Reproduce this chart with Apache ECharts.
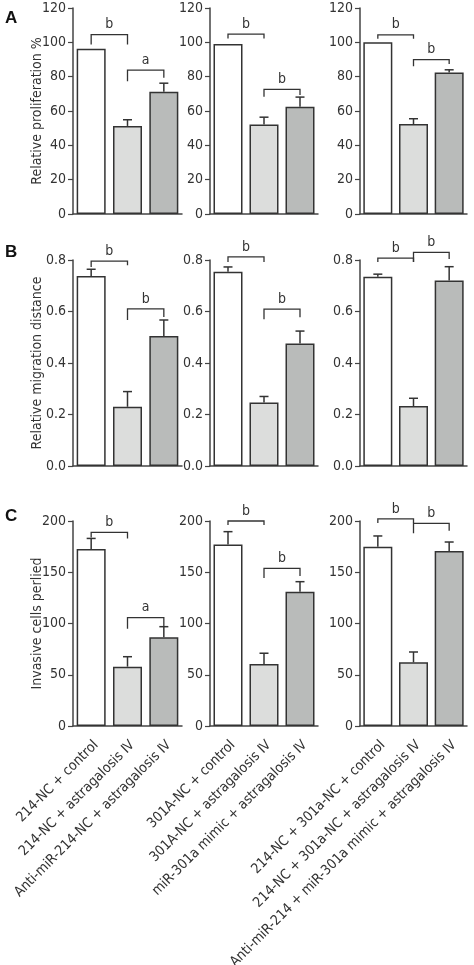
<!DOCTYPE html>
<html><head><meta charset="utf-8">
<script src="https://cdn.jsdelivr.net/npm/echarts@6/dist/echarts.min.js"></script>
<style>html,body{margin:0;padding:0;background:#fff}#c{width:474px;height:965px}</style>
</head><body><div id="c"></div>
<script>
// ---------- DATA ----------
const catsCol1 = ["214-NC + control", "214-NC + astragalosis Ⅳ", "Anti-miR-214-NC + astragalosis Ⅳ"];
const catsCol2 = ["301A-NC + control", "301A-NC + astragalosis Ⅳ", "miR-301a mimic + astragalosis Ⅳ"];
const catsCol3 = ["214-NC + 301a-NC + control", "214-NC + 301a-NC + astragalosis Ⅳ", "Anti-miR-214 + miR-301a mimic + astragalosis Ⅳ"];

const panelLetters = ["A", "B", "C"];
const yNames = ["Relative proliferation %", "Relative migration distance", "Invasive cells perlied"];
const yMaxes = [120, 0.8, 200];
const yIntervals = [20, 0.2, 50];
const yDecimals = [0, 1, 0];

// A: relative proliferation (%), per column: [white, light, dark]
const profMeans = [[96.2, 51.3, 71.2], [99.1, 52.1, 62.5], [100, 52.4, 82.5]];
const profErrTop = [[96.2, 54.9, 76.2], [99.1, 56.4, 68.1], [100, 55.5, 84.0]];
// B: relative migration distance
const migMeans = [[0.738, 0.230, 0.505], [0.754, 0.247, 0.476], [0.735, 0.233, 0.720]];
const migErrTop = [[0.764, 0.289, 0.567], [0.773, 0.270, 0.524], [0.745, 0.263, 0.774]];
// C: invasive cells per field
const invMeans = [[172.7, 57.9, 86.5], [177, 60.5, 131], [175, 62.1, 170.7]];
const invErrTop = [[183, 67.6, 96.9], [189.6, 71, 140.8], [185.4, 72.2, 179.5]];

// significance brackets: [fromIndex, toIndex, topY, leftEndY, rightEndY]
const profBrackets = [
  [[0, 1, 104.5, 98.7, 98.7], [1, 2, 83.8, 77.4, 79.3]],
  [[0, 1, 104.8, 102.2, 102.2], [1, 2, 72.6, 68.3, 69.3]],
  [[0, 1, 104.4, 102.1, 102.1], [1, 2, 89.9, 86.0, 87.4]]
];
const profBracketLabels = [["b", "a"], ["b", "b"], ["b", "b"]];
const migBrackets = [
  [[0, 1, 0.796, 0.773, 0.780], [1, 2, 0.610, 0.567, 0.579]],
  [[0, 1, 0.812, 0.792, 0.792], [1, 2, 0.609, 0.570, 0.578]],
  [[0, 1, 0.807, 0.792, 0.792], [1, 2, 0.830, 0.792, 0.804]]
];
const migBracketLabels = [["b", "b"], ["b", "b"], ["b", "b"]];
const invBrackets = [
  [[0, 1, 189, 184, 183], [1, 2, 105.7, 95, 97]],
  [[0, 1, 200, 196, 196], [1, 2, 153.8, 144.4, 146.3]],
  [[0, 1, 202, 198, 198], [1, 2, 197.7, 188, 190.5]]
];
const invBracketLabels = [["b", "a"], ["b", "b"], ["b", "b"]];

// ---------- CHART ----------
const cats = [catsCol1, catsCol2, catsCol3];
const means = [profMeans, migMeans, invMeans];
const errTops = [profErrTop, migErrTop, invErrTop];
const brackets = [profBrackets, migBrackets, invBrackets];
const bracketLabels = [profBracketLabels, migBracketLabels, invBracketLabels];

const FONT = '"DejaVu Sans Condensed", "DejaVu Sans", sans-serif';
const INK = '#333';
const barColors = ['#ffffff', '#dcdddc', '#b9bbba'];
const colLeft = [73, 210, 360];
const colRight = [182, 318, 467];
const rowTop = [8, 260, 521];
const rowBottom = [214, 466, 726];

const grids = [], xAxes = [], yAxes = [], series = [];
for (let r = 0; r < 3; r++) {
  for (let c = 0; c < 3; c++) {
    const gi = r * 3 + c;
    grids.push({left: colLeft[c], width: colRight[c] - colLeft[c], top: rowTop[r], height: rowBottom[r] - rowTop[r],
      containLabel: false, outerBoundsMode: 'none'});
    xAxes.push({
      type: 'category', gridIndex: gi, data: cats[c],
      axisLine: {lineStyle: {color: '#444', width: 1.5}},
      axisTick: {inside: true, length: 4, alignWithLabel: true, lineStyle: {color: '#444', width: 1.2}},
      axisLabel: r === 2 ? {show: true, interval: 0, rotate: 45, margin: 12, verticalAlign: 'top', hideOverlap: false, fontFamily: FONT, fontSize: 14, color: INK} : {show: false}
    });
    const dec = yDecimals[r];
    yAxes.push({
      type: 'value', gridIndex: gi, min: 0, max: yMaxes[r], interval: yIntervals[r],
      name: c === 0 ? yNames[r] : '', nameLocation: 'middle', nameGap: 29, nameRotate: 90, nameMoveOverlap: false,
      nameTextStyle: {fontFamily: FONT, fontSize: 14, color: INK},
      axisLine: {show: true, lineStyle: {color: '#444', width: 1.5}},
      axisTick: {show: true, length: 5, lineStyle: {color: '#444', width: 1.2}},
      splitLine: {show: false},
      axisLabel: {margin: 7, fontFamily: FONT, fontSize: 14, color: INK, formatter: v => v.toFixed(dec)}
    });
    series.push({
      type: 'bar', xAxisIndex: gi, yAxisIndex: gi, barWidth: 29,
      data: means[r][c].map((v, i) => ({value: v, itemStyle: {color: barColors[i]}})),
      itemStyle: {borderColor: INK, borderWidth: 1.5},
      emphasis: {disabled: true}, silent: true
    });
    series.push({
      type: 'custom', xAxisIndex: gi, yAxisIndex: gi, silent: true, z: 5,
      data: means[r][c].map((v, i) => [i, v, errTops[r][c][i]]),
      renderItem: (params, api) => {
        const x = api.value(0), m = api.value(1), e = api.value(2);
        if (!(e > m)) return null;
        const p0 = api.coord([x, m]), p1 = api.coord([x, e]);
        return {type: 'group', children: [
          {type: 'line', shape: {x1: p0[0], y1: p0[1], x2: p1[0], y2: p1[1]}, style: {stroke: INK, lineWidth: 1.5}},
          {type: 'line', shape: {x1: p1[0] - 4.5, y1: p1[1], x2: p1[0] + 4.5, y2: p1[1]}, style: {stroke: INK, lineWidth: 1.5}}
        ]};
      }
    });
    const labs = bracketLabels[r][c];
    series.push({
      type: 'custom', xAxisIndex: gi, yAxisIndex: gi, silent: true, z: 6, clip: false,
      data: brackets[r][c],
      renderItem: (params, api) => {
        const x0 = api.value(0), x1 = api.value(1), yt = api.value(2), yl = api.value(3), yr = api.value(4);
        const a = api.coord([x0, yt]), b = api.coord([x1, yt]);
        const al = api.coord([x0, yl]), br = api.coord([x1, yr]);
        return {type: 'group', children: [
          {type: 'polyline', shape: {points: [al, a, b, br]}, style: {stroke: INK, lineWidth: 1.3, fill: null}},
          {type: 'text', style: {text: labs[params.dataIndex], x: (a[0] + b[0]) / 2, y: a[1] - 3,
            align: 'center', verticalAlign: 'bottom', font: '14px ' + FONT, fill: INK}}
        ]};
      }
    });
  }
}

const letterTops = [10, 244, 508];
const graphic = panelLetters.map((t, r) => ({
  type: 'text', left: 5, top: letterTops[r],
  style: {text: t, font: 'bold 17px "Liberation Sans", Arial, sans-serif', fill: '#111'}
}));

const chart = echarts.init(document.getElementById('c'), null, {renderer: 'canvas'});
chart.setOption({
  animation: false, backgroundColor: '#fff',
  grid: grids, xAxis: xAxes, yAxis: yAxes, series: series, graphic: graphic
});
</script></body></html>
